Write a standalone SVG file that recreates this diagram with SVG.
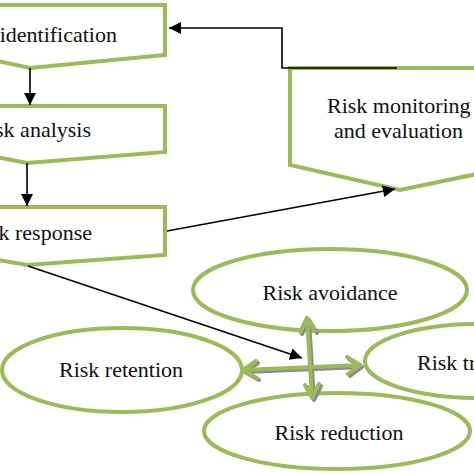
<svg xmlns="http://www.w3.org/2000/svg" width="474" height="474" viewBox="0 0 474 474">
<style>
.box{fill:#fff;stroke:#9bbb59;stroke-width:4;stroke-linejoin:miter}
.ell{fill:#fff;stroke:#9bbb59;stroke-width:4}
.t{font-family:"Liberation Serif","Times New Roman",serif;font-size:22px;fill:#111}
.con{fill:none;stroke:#000;stroke-width:1.6}
.ga{fill:none;stroke:#9bbb59;stroke-width:4;stroke-linecap:round;stroke-linejoin:round}
.gs{fill:none;stroke:#8a8a8a;stroke-width:4;stroke-linecap:round;stroke-linejoin:round}
</style>
<defs>
<marker id="ah" viewBox="0 0 10 10" refX="10" refY="5" markerWidth="8" markerHeight="7.5" orient="auto" markerUnits="strokeWidth">
<path d="M0,0 L10,5 L0,10 z" fill="#000"/>
</marker>
</defs>
<rect width="474" height="474" fill="#fff"/>
<g id="n-identification">
<polygon class="box" points="-30,5 165,5 165,55 30,68 -30,55"/>
<text class="t" x="117" y="42" text-anchor="end">Risk identification</text>
</g>
<g id="n-analysis">
<polygon class="box" points="-30,106 165,106 165,152 27,163 -30,152"/>
<text class="t" x="91" y="137" text-anchor="end">Risk analysis</text>
</g>
<g id="n-response">
<polygon class="box" points="-30,207 165,207 165,255 27,265 -30,255"/>
<text class="t" x="92" y="240" text-anchor="end">Risk response</text>
</g>
<g id="n-monitoring">
<polygon class="box" points="290,68 520,68 520,165 400,190 290,165"/>
<text class="t" x="327" y="113">Risk monitoring</text>
<text class="t" x="334" y="138">and evaluation</text>
</g>
<g id="n-avoidance">
<ellipse class="ell" cx="330" cy="290" rx="137" ry="41"/>
<text class="t" x="330" y="300" text-anchor="middle">Risk avoidance</text>
</g>
<g id="n-retention">
<ellipse class="ell" cx="122" cy="370" rx="120" ry="42"/>
<text class="t" x="121" y="377" text-anchor="middle">Risk retention</text>
</g>
<g id="n-transfer">
<ellipse class="ell" cx="478" cy="361" rx="113" ry="37"/>
<text class="t" x="417" y="370">Risk transfer</text>
</g>
<g id="n-reduction">
<ellipse class="ell" cx="337" cy="431" rx="133" ry="38"/>
<text class="t" x="339" y="440" text-anchor="middle">Risk reduction</text>
</g>
<g id="connectors">
<line class="con" x1="30" y1="68" x2="30" y2="105" marker-end="url(#ah)"/>
<line class="con" x1="27" y1="163" x2="27" y2="206" marker-end="url(#ah)"/>
<line class="con" x1="167" y1="231" x2="395" y2="189" marker-end="url(#ah)"/>
<line class="con" x1="28" y1="266" x2="302" y2="358" marker-end="url(#ah)"/>
<polyline class="con" points="397,68 282,68 282,28 169,28" marker-end="url(#ah)"/>
<g transform="translate(2,2)">
<path class="gs" d="M307,318 L312,398 M300,332 L307,318 L315,331 M305,385 L312,398 L319,384"/>
<path class="gs" d="M243,370 L360,365 M256,361 L243,370 L257,378 M347,357 L360,365 L348,374"/>
</g>
<path class="ga" d="M307,318 L312,398 M300,332 L307,318 L315,331 M305,385 L312,398 L319,384"/>
<path class="ga" d="M243,370 L360,365 M256,361 L243,370 L257,378 M347,357 L360,365 L348,374"/>
</g>
</svg>
